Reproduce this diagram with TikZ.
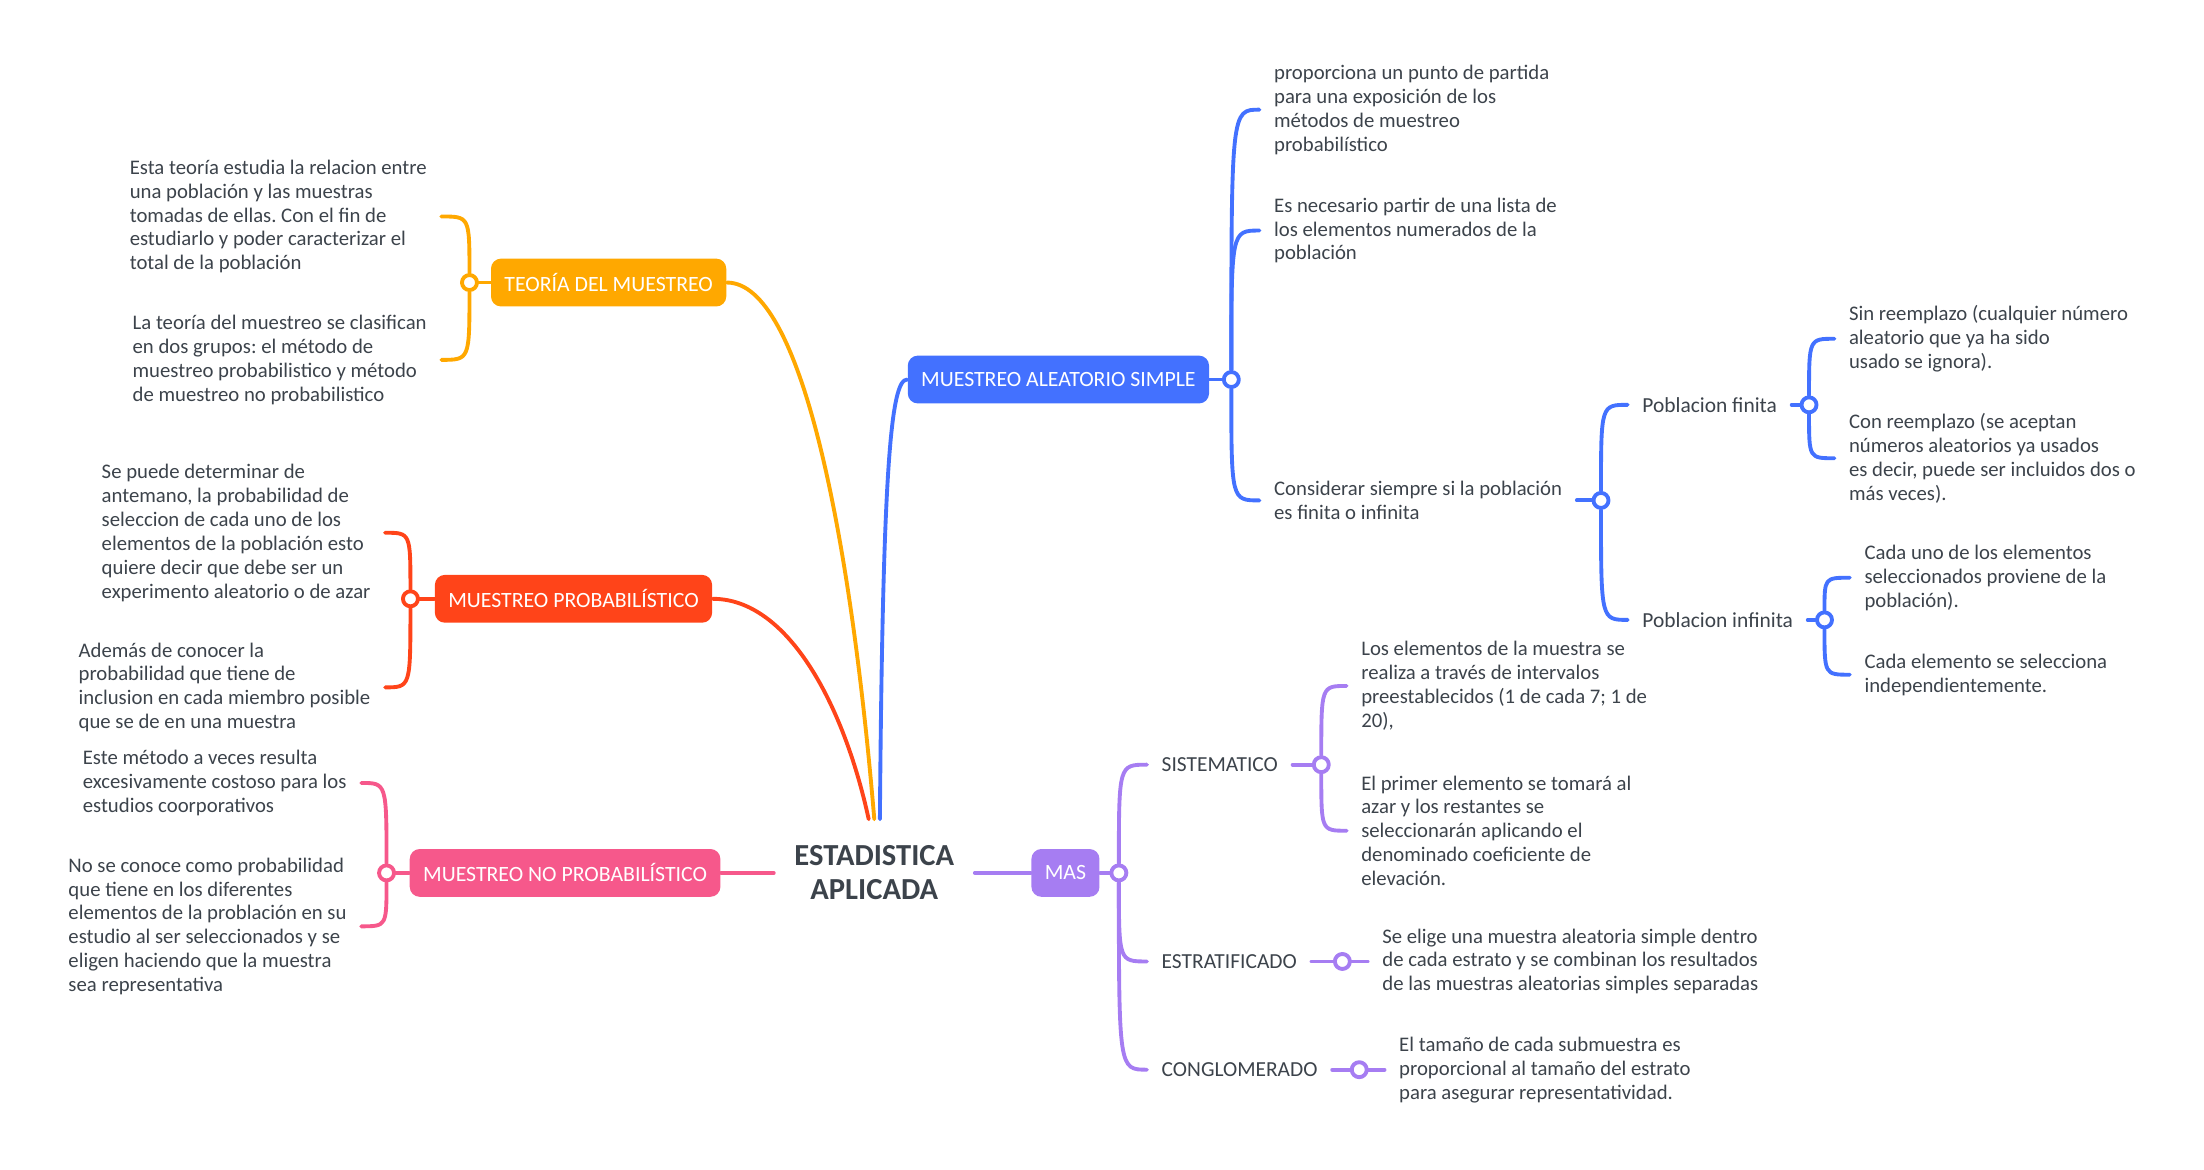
\documentclass[tikz,border=0pt]{standalone}
\usepackage{fontspec}
\setmainfont{Carlito}
\usepackage{xcolor}
\frenchspacing

\definecolor{cOrange}{HTML}{FFA800}
\definecolor{cRed}{HTML}{FF4419}
\definecolor{cPink}{HTML}{F6588B}
\definecolor{cBlue}{HTML}{4371FF}
\definecolor{cPurple}{HTML}{A67DF2}
\definecolor{cText}{HTML}{3C434B}

\begin{document}
\begin{tikzpicture}[x=0.014056cm, y=-0.014056cm, line cap=round, line join=round,
    leaf/.style={align=left, inner xsep=0.14cm, inner ysep=0pt, text=cText,
                 font=\fontsize{5.9}{6.8}\selectfont},
    sublabel/.style={leaf, font=\fontsize{6.1}{7}\selectfont},
    topic/.style={fill=#1, text=white, rounded corners=0.1cm, minimum height=0.478cm,
                  inner xsep=0.134cm, font=\fontsize{6.2}{7}\selectfont},
    knot/.style={circle, draw=#1, fill=white, line width=1.1pt, minimum size=0.15cm, inner sep=0pt},
    link/.style={draw=#1, line width=1.1pt}]

  \useasboundingbox (0,0) rectangle (1568,832);

  % centro
  \node[font=\bfseries\fontsize{8.7}{9.6}\selectfont, text=cText, align=center,
        inner xsep=0.2cm, inner ysep=0.26cm] (root) at (622,621) {ESTADISTICA\\APLICADA};

  % ramas principales
  \node[topic=cOrange] (tm) at (433,201) {TEORÍA DEL MUESTREO};
  \node[topic=cRed]    (mp) at (408,426) {MUESTREO PROBABILÍSTICO};
  \node[topic=cPink]   (np) at (402,621) {MUESTREO NO PROBABILÍSTICO};
  \node[topic=cBlue]   (as) at (753,270) {MUESTREO ALEATORIO SIMPLE};
  \node[topic=cPurple] (ma) at (758,621) {MAS};

  \draw[link=cRed]    ([xshift=-0.056cm]root.north) .. controls (600,500) and (560,426) .. (mp.east);
  \draw[link=cOrange] (root.north) .. controls (605,380) and (570,201) .. (tm.east);
  \draw[link=cBlue]   ([xshift=0.056cm]root.north) .. controls (628,330) and (634,270) .. (as.west);
  \draw[link=cPink]   (root.west) -- (np.east);
  \draw[link=cPurple] (root.east) -- (ma.west);

  % teoria del muestreo
  \node[knot=cOrange] (j-tm) at (334,201) {};
  \node[leaf, anchor=east] (t1) at (314,154) {Esta teoría estudia la relacion entre\\una población y las muestras\\tomadas de ellas. Con el fin de\\estudiarlo y poder caracterizar el\\total de la población};
  \node[leaf, anchor=east] (t2) at (314,256) {La teoría del muestreo se clasifican\\en dos grupos: el método de\\muestreo probabilistico y método\\de muestreo no probabilistico};
  \draw[link=cOrange] (tm.west) -- (j-tm);
  \draw[link=cOrange] (j-tm) .. controls (j-tm |- t1.east) .. (t1.east);
  \draw[link=cOrange] (j-tm) .. controls (j-tm |- t2.east) .. (t2.east);

  % muestreo probabilistico
  \node[knot=cRed] (j-mp) at (292,426) {};
  \node[leaf, anchor=east] (p1) at (274,379) {Se puede determinar de\\antemano, la probabilidad de\\seleccion de cada uno de los\\elementos de la población esto\\quiere decir que debe ser un\\experimento aleatorio o de azar};
  \node[leaf, anchor=east] (p2) at (274,489) {Además de conocer la\\probabilidad que tiene de\\inclusion en cada miembro posible\\que se de en una muestra};
  \draw[link=cRed] (mp.west) -- (j-mp);
  \draw[link=cRed] (j-mp) .. controls (j-mp |- p1.east) .. (p1.east);
  \draw[link=cRed] (j-mp) .. controls (j-mp |- p2.east) .. (p2.east);

  % muestreo no probabilistico
  \node[knot=cPink] (j-np) at (275,621) {};
  \node[leaf, anchor=east] (n1) at (257,557) {Este método a veces resulta\\excesivamente costoso para los\\estudios coorporativos};
  \node[leaf, anchor=east] (n2) at (257,659) {No se conoce como probabilidad\\que tiene en los diferentes\\elementos de la problación en su\\estudio al ser seleccionados y se\\eligen haciendo que la muestra\\sea representativa};
  \draw[link=cPink] (np.west) -- (j-np);
  \draw[link=cPink] (j-np) .. controls (j-np |- n1.east) .. (n1.east);
  \draw[link=cPink] (j-np) .. controls (j-np |- n2.east) .. (n2.east);

  % muestreo aleatorio simple
  \node[knot=cBlue] (j-as) at (876,270) {};
  \node[leaf, anchor=west] (a1) at (896,78) {proporciona un punto de partida\\para una exposición de los\\métodos de muestreo\\probabilístico};
  \node[leaf, anchor=west] (a2) at (896,164) {Es necesario partir de una lista de\\los elementos numerados de la\\población};
  \node[leaf, anchor=west] (a3) at (896,356) {Considerar siempre si la población\\es finita o infinita};
  \draw[link=cBlue] (as.east) -- (j-as);
  \draw[link=cBlue] (j-as) .. controls (j-as |- a1.west) .. (a1.west);
  \draw[link=cBlue] (j-as) .. controls (j-as |- a2.west) .. (a2.west);
  \draw[link=cBlue] (j-as) .. controls (j-as |- a3.west) .. (a3.west);

  \node[knot=cBlue] (j-a3) at (1139,356) {};
  \node[sublabel, anchor=west] (fin) at (1158,288) {Poblacion finita};
  \node[sublabel, anchor=west] (inf) at (1158,441) {Poblacion infinita};
  \draw[link=cBlue] (a3.east) -- (j-a3);
  \draw[link=cBlue] (j-a3) .. controls (j-a3 |- fin.west) .. (fin.west);
  \draw[link=cBlue] (j-a3) .. controls (j-a3 |- inf.west) .. (inf.west);

  \node[knot=cBlue] (j-fin) at (1287,288) {};
  \node[leaf, anchor=west] (f1) at (1305,241) {Sin reemplazo (cualquier número\\aleatorio que ya ha sido\\usado se ignora).};
  \node[leaf, anchor=west] (f2) at (1305,326) {Con reemplazo (se aceptan\\números aleatorios ya usados\\es decir, puede ser incluidos dos o\\más veces).};
  \draw[link=cBlue] (fin.east) -- (j-fin);
  \draw[link=cBlue] (j-fin) .. controls (j-fin |- f1.west) .. (f1.west);
  \draw[link=cBlue] (j-fin) .. controls (j-fin |- f2.west) .. (f2.west);

  \node[knot=cBlue] (j-inf) at (1298,441) {};
  \node[leaf, anchor=west] (i1) at (1316,411) {Cada uno de los elementos\\seleccionados proviene de la\\población).};
  \node[leaf, anchor=west] (i2) at (1316,480) {Cada elemento se selecciona\\independientemente.};
  \draw[link=cBlue] (inf.east) -- (j-inf);
  \draw[link=cBlue] (j-inf) .. controls (j-inf |- i1.west) .. (i1.west);
  \draw[link=cBlue] (j-inf) .. controls (j-inf |- i2.west) .. (i2.west);

  % MAS
  \node[knot=cPurple] (j-ma) at (796,621) {};
  \node[sublabel, anchor=west] (sis) at (816,544) {SISTEMATICO};
  \node[sublabel, anchor=west] (est) at (816,684) {ESTRATIFICADO};
  \node[sublabel, anchor=west] (con) at (816,761) {CONGLOMERADO};
  \draw[link=cPurple] (ma.east) -- (j-ma);
  \draw[link=cPurple] (j-ma) .. controls (j-ma |- sis.west) .. (sis.west);
  \draw[link=cPurple] (j-ma) .. controls (j-ma |- est.west) .. (est.west);
  \draw[link=cPurple] (j-ma) .. controls (j-ma |- con.west) .. (con.west);

  \node[knot=cPurple] (j-sis) at (940,544) {};
  \node[leaf, anchor=west] (s1) at (958,488) {Los elementos de la muestra se\\realiza a través de intervalos\\preestablecidos (1 de cada 7; 1 de\\20),};
  \node[leaf, anchor=west] (s2) at (958,591) {El primer elemento se tomará al\\azar y los restantes se\\seleccionarán aplicando el\\denominado coeficiente de\\elevación.};
  \draw[link=cPurple] (sis.east) -- (j-sis);
  \draw[link=cPurple] (j-sis) .. controls (j-sis |- s1.west) .. (s1.west);
  \draw[link=cPurple] (j-sis) .. controls (j-sis |- s2.west) .. (s2.west);

  \node[knot=cPurple] (j-est) at (955,684) {};
  \node[leaf, anchor=west] (e1) at (973,684) {Se elige una muestra aleatoria simple dentro\\de cada estrato y se combinan los resultados\\de las muestras aleatorias simples separadas};
  \draw[link=cPurple] (est.east) -- (j-est);
  \draw[link=cPurple] (j-est) -- (e1.west);

  \node[knot=cPurple] (j-con) at (967,761) {};
  \node[leaf, anchor=west] (c1) at (985,761) {El tamaño de cada submuestra es\\proporcional al tamaño del estrato\\para asegurar representatividad.};
  \draw[link=cPurple] (con.east) -- (j-con);
  \draw[link=cPurple] (j-con) -- (c1.west);

\end{tikzpicture}
\end{document}
